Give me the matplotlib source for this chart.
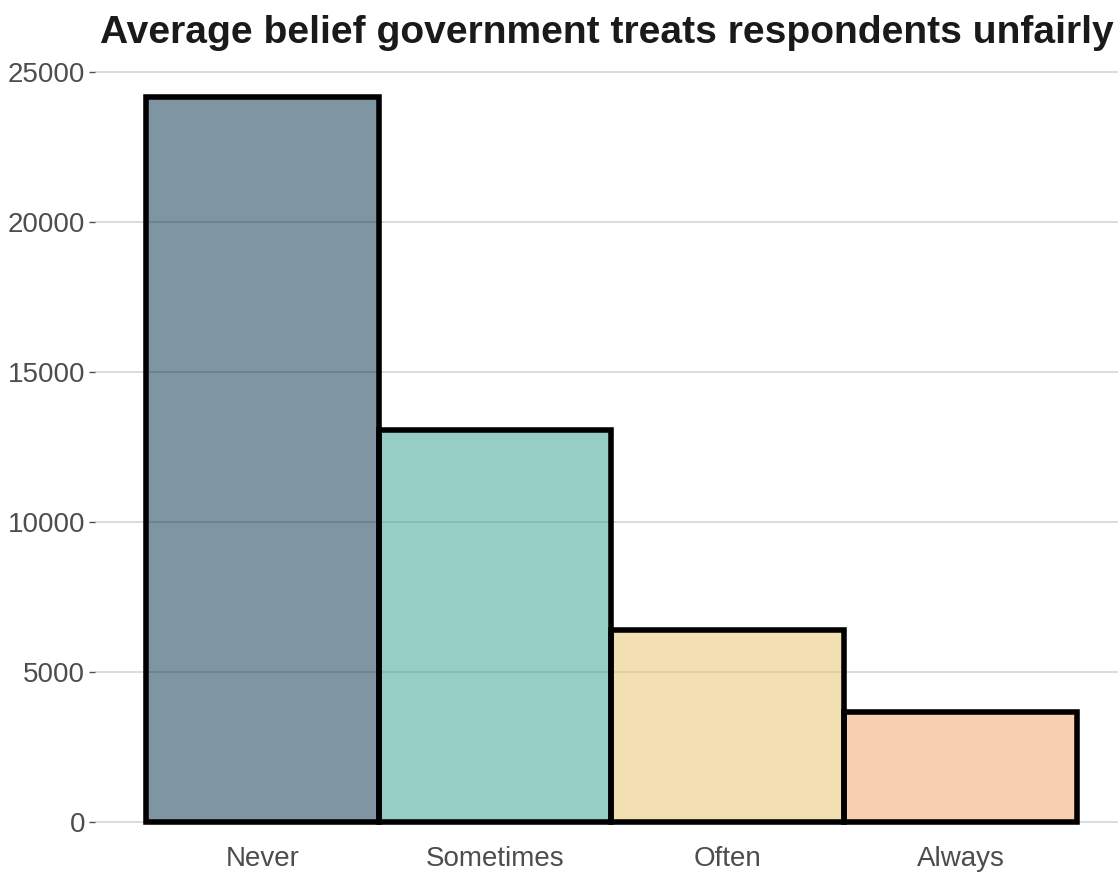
import numpy as np
import matplotlib.pyplot as plt
from matplotlib import font_manager

# data
categories = ["Never", "Sometimes", "Often", "Always"]
counts = [24170, 13050, 6410, 3680]
bar_colors = ["#002D45", "#2F9D8D", "#E7C167", "#F1A363"]
yticks = [0, 5000, 10000, 15000, 20000, 25000]

names = {f.name for f in font_manager.fontManager.ttflist}
narrow = "Liberation Sans Narrow" if "Liberation Sans Narrow" in names else "Liberation Sans"
plt.rcParams["font.family"] = [narrow, "DejaVu Sans"]

fig = plt.figure(figsize=(11.18, 8.86), dpi=100)
ax = fig.add_axes([95 / 1118, 46 / 886, 1 - 95 / 1118, (840 - 60) / 886])

x = np.arange(1, len(categories) + 1)
ax.bar(x, counts, width=1.0, color=bar_colors, alpha=0.5, zorder=3)
ax.bar(x, counts, width=1.0, facecolor="none", edgecolor="black", linewidth=4, zorder=4)

ax.set_xlim(0.5 - 51 / 233, 4.5 + 41 / 233)
ax.set_ylim(-600, 25400)
ax.set_xticks(x)
ax.set_xticklabels(categories)
ax.set_yticks(yticks)
ax.set_yticklabels([str(v) for v in yticks])

ax.yaxis.grid(True, color="#D9D9D9", linewidth=1.3, zorder=0)
ax.set_axisbelow(True)
for s in ax.spines.values():
    s.set_visible(False)
ax.tick_params(axis="y", length=4, width=1, color="#4D4D4D", labelsize=20, labelcolor="#4D4D4D", pad=3)
ax.tick_params(axis="x", length=0, labelsize=20, labelcolor="#4D4D4D", pad=4)

title = ax.set_title("Average belief government treats respondents unfairly", loc="left",
                     fontsize=34, fontweight="bold", color="#1A1A1A", pad=12, x=0.005)

# shrink the title so the whole line fits in the figure width
fig.canvas.draw()
bb = title.get_window_extent()
avail = 1114 - bb.x0
if bb.width > avail:
    title.set_fontsize(34 * avail / bb.width)

plt.savefig("out.png", dpi=100)
